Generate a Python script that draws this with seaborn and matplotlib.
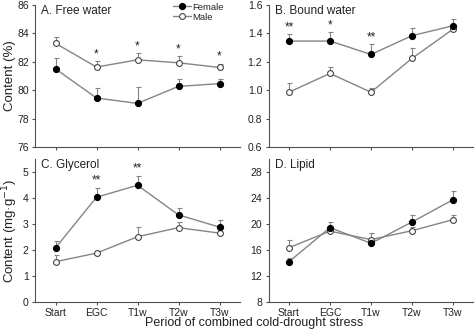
import numpy as np
import pandas as pd
import matplotlib
matplotlib.use("Agg")
import matplotlib.pyplot as plt
import seaborn as sns
from matplotlib.lines import Line2D

periods = ["Start", "EGC", "T1w", "T2w", "T3w"]

a_female = [81.5, 79.45, 79.07, 80.27, 80.46]
a_female_err = [0.8, 0.68, 1.15, 0.5, 0.3]
a_male = [83.3, 81.63, 82.14, 81.93, 81.6]
a_male_err = [0.44, 0.42, 0.46, 0.47, 0.28]
a_stars = ["", "*", "*", "*", "*"]

b_female = [1.346, 1.346, 1.252, 1.384, 1.454]
b_female_err = [0.05, 0.065, 0.073, 0.055, 0.045]
b_male = [0.986, 1.118, 0.986, 1.224, 1.43]
b_male_err = [0.062, 0.047, 0.03, 0.07, 0.0]
b_stars = ["**", "*", "**", "", ""]

c_female = [2.08, 4.03, 4.49, 3.35, 2.88]
c_female_err = [0.27, 0.37, 0.37, 0.27, 0.27]
c_male = [1.55, 1.88, 2.51, 2.86, 2.65]
c_male_err = [0.26, 0.04, 0.39, 0.23, 0.18]
c_stars = ["", "**", "**", "", ""]

d_female = [14.2, 19.44, 17.03, 20.3, 23.74]
d_female_err = [0.6, 0.82, 0.5, 1.1, 1.36]
d_male = [16.36, 18.9, 17.6, 18.97, 20.67]
d_male_err = [1.14, 0.5, 1.07, 0.6, 0.75]
d_stars = ["", "", "", "", ""]

sns.set_theme(style="ticks")
plt.rcParams['font.family'] = ['Liberation Sans', 'DejaVu Sans']

W, H = 474, 334
fig = plt.figure(figsize=(W / 100, H / 100), dpi=100)

def rect(l, r, t, b):
    return [l / W, 1 - b / H, (r - l) / W, (b - t) / H]

panels = [
    dict(pos=rect(35, 240, 5, 147), f=a_female, fe=a_female_err, m=a_male, me=a_male_err,
         stars=a_stars, title="A. Free water", ylim=(76, 86), yt=[76, 78, 80, 82, 84, 86], fmt="{:.0f}"),
    dict(pos=rect(268.5, 473.5, 5, 147), f=b_female, fe=b_female_err, m=b_male, me=b_male_err,
         stars=b_stars, title="B. Bound water", ylim=(0.6, 1.6), yt=[0.6, 0.8, 1.0, 1.2, 1.4, 1.6], fmt="{:.1f}"),
    dict(pos=rect(35, 240, 159, 302), f=c_female, fe=c_female_err, m=c_male, me=c_male_err,
         stars=c_stars, title="C. Glycerol", ylim=(0, 5.5), yt=[0, 1, 2, 3, 4, 5], fmt="{:.0f}"),
    dict(pos=rect(268.5, 473.5, 159, 302), f=d_female, fe=d_female_err, m=d_male, me=d_male_err,
         stars=d_stars, title="D. Lipid", ylim=(8, 30), yt=[8, 12, 16, 20, 24, 28], fmt="{:.0f}"),
]

line_col = "#858585"
spine_col = "#505050"
txt_col = "#222222"
ms = 4.2

for i, p in enumerate(panels):
    ax = fig.add_axes(p["pos"])
    df = pd.DataFrame({
        "period": periods * 2,
        "x": list(range(5)) * 2,
        "value": p["f"] + p["m"],
        "sex": ["Female"] * 5 + ["Male"] * 5,
    })
    x = np.arange(5)
    ax.errorbar(x, p["f"], yerr=[np.zeros(5), p["fe"]], fmt="none", ecolor=line_col,
                elinewidth=0.8, capsize=1.8, capthick=0.8, zorder=1)
    ax.errorbar(x, p["m"], yerr=[np.zeros(5), p["me"]], fmt="none", ecolor=line_col,
                elinewidth=0.8, capsize=1.8, capthick=0.8, zorder=1)
    sns.lineplot(data=df, x="x", y="value", hue="sex",
                 palette={"Female": line_col, "Male": line_col},
                 linewidth=1.0, ax=ax, legend=False, zorder=2)
    ax.plot(x, p["f"], linestyle="none", marker="o", markersize=ms,
            markerfacecolor="black", markeredgecolor="black", zorder=4)
    ax.plot(x, p["m"], linestyle="none", marker="o", markersize=ms,
            markerfacecolor="white", markeredgecolor="#444444", markeredgewidth=0.8,
            zorder=3)
    yr = p["ylim"][1] - p["ylim"][0]
    for j, s in enumerate(p["stars"]):
        if s:
            top = max(p["f"][j] + p["fe"][j], p["m"][j] + p["me"][j])
            ax.text(j, top + yr * 0.005, s, ha="center", va="bottom", fontsize=8.5,
                    color=txt_col)
    ax.set_xlim(-0.5, 4.5)
    ax.set_ylim(*p["ylim"])
    ax.set_yticks(p["yt"])
    ax.set_yticklabels([p["fmt"].format(v) for v in p["yt"]])
    ax.set_xticks(x)
    if i >= 2:
        ax.set_xticklabels(periods)
    else:
        ax.set_xticklabels([])
    ax.set_xlabel("")
    ax.set_ylabel("")
    for s in ["top", "right"]:
        ax.spines[s].set_visible(False)
    for s in ["left", "bottom"]:
        ax.spines[s].set_color(spine_col)
        ax.spines[s].set_linewidth(0.8)
    ax.tick_params(axis="both", direction="out", length=2.5, width=0.8, color=spine_col,
                   labelsize=7.5, labelcolor=txt_col, pad=2)
    ax.text(0.03, 1.0, p["title"], transform=ax.transAxes, ha="left", va="top",
            fontsize=8.5, color=txt_col)
    if i == 0:
        handles = [Line2D([], [], color=line_col, lw=1.0, marker="o", markersize=ms,
                          markerfacecolor="black", markeredgecolor="black"),
                   Line2D([], [], color=line_col, lw=1.0, marker="o", markersize=ms,
                          markerfacecolor="white", markeredgecolor="#444444", markeredgewidth=0.8)]
        ax.legend(handles, ["Female", "Male"], loc="upper right", bbox_to_anchor=(0.93, 1.03),
                  frameon=False, fontsize=6.8, handlelength=1.9, handletextpad=0.15,
                  labelspacing=0.1, borderaxespad=0.0, borderpad=0.2, labelcolor=txt_col)
    if i in (0, 2):
        lab = "Content (%)" if i == 0 else "Content (mg·g$^{-1}$)"
        fig.text(10 / W, 1 - (p_center := (76 if i == 0 else 231)) / H, lab, rotation=90,
                 ha="center", va="center", fontsize=9.5, color=txt_col)

fig.text(254 / W, 1 - 323 / H, "Period of combined cold-drought stress", ha="center",
         va="center", fontsize=9, color=txt_col)

fig.savefig("out.png", dpi=100)
